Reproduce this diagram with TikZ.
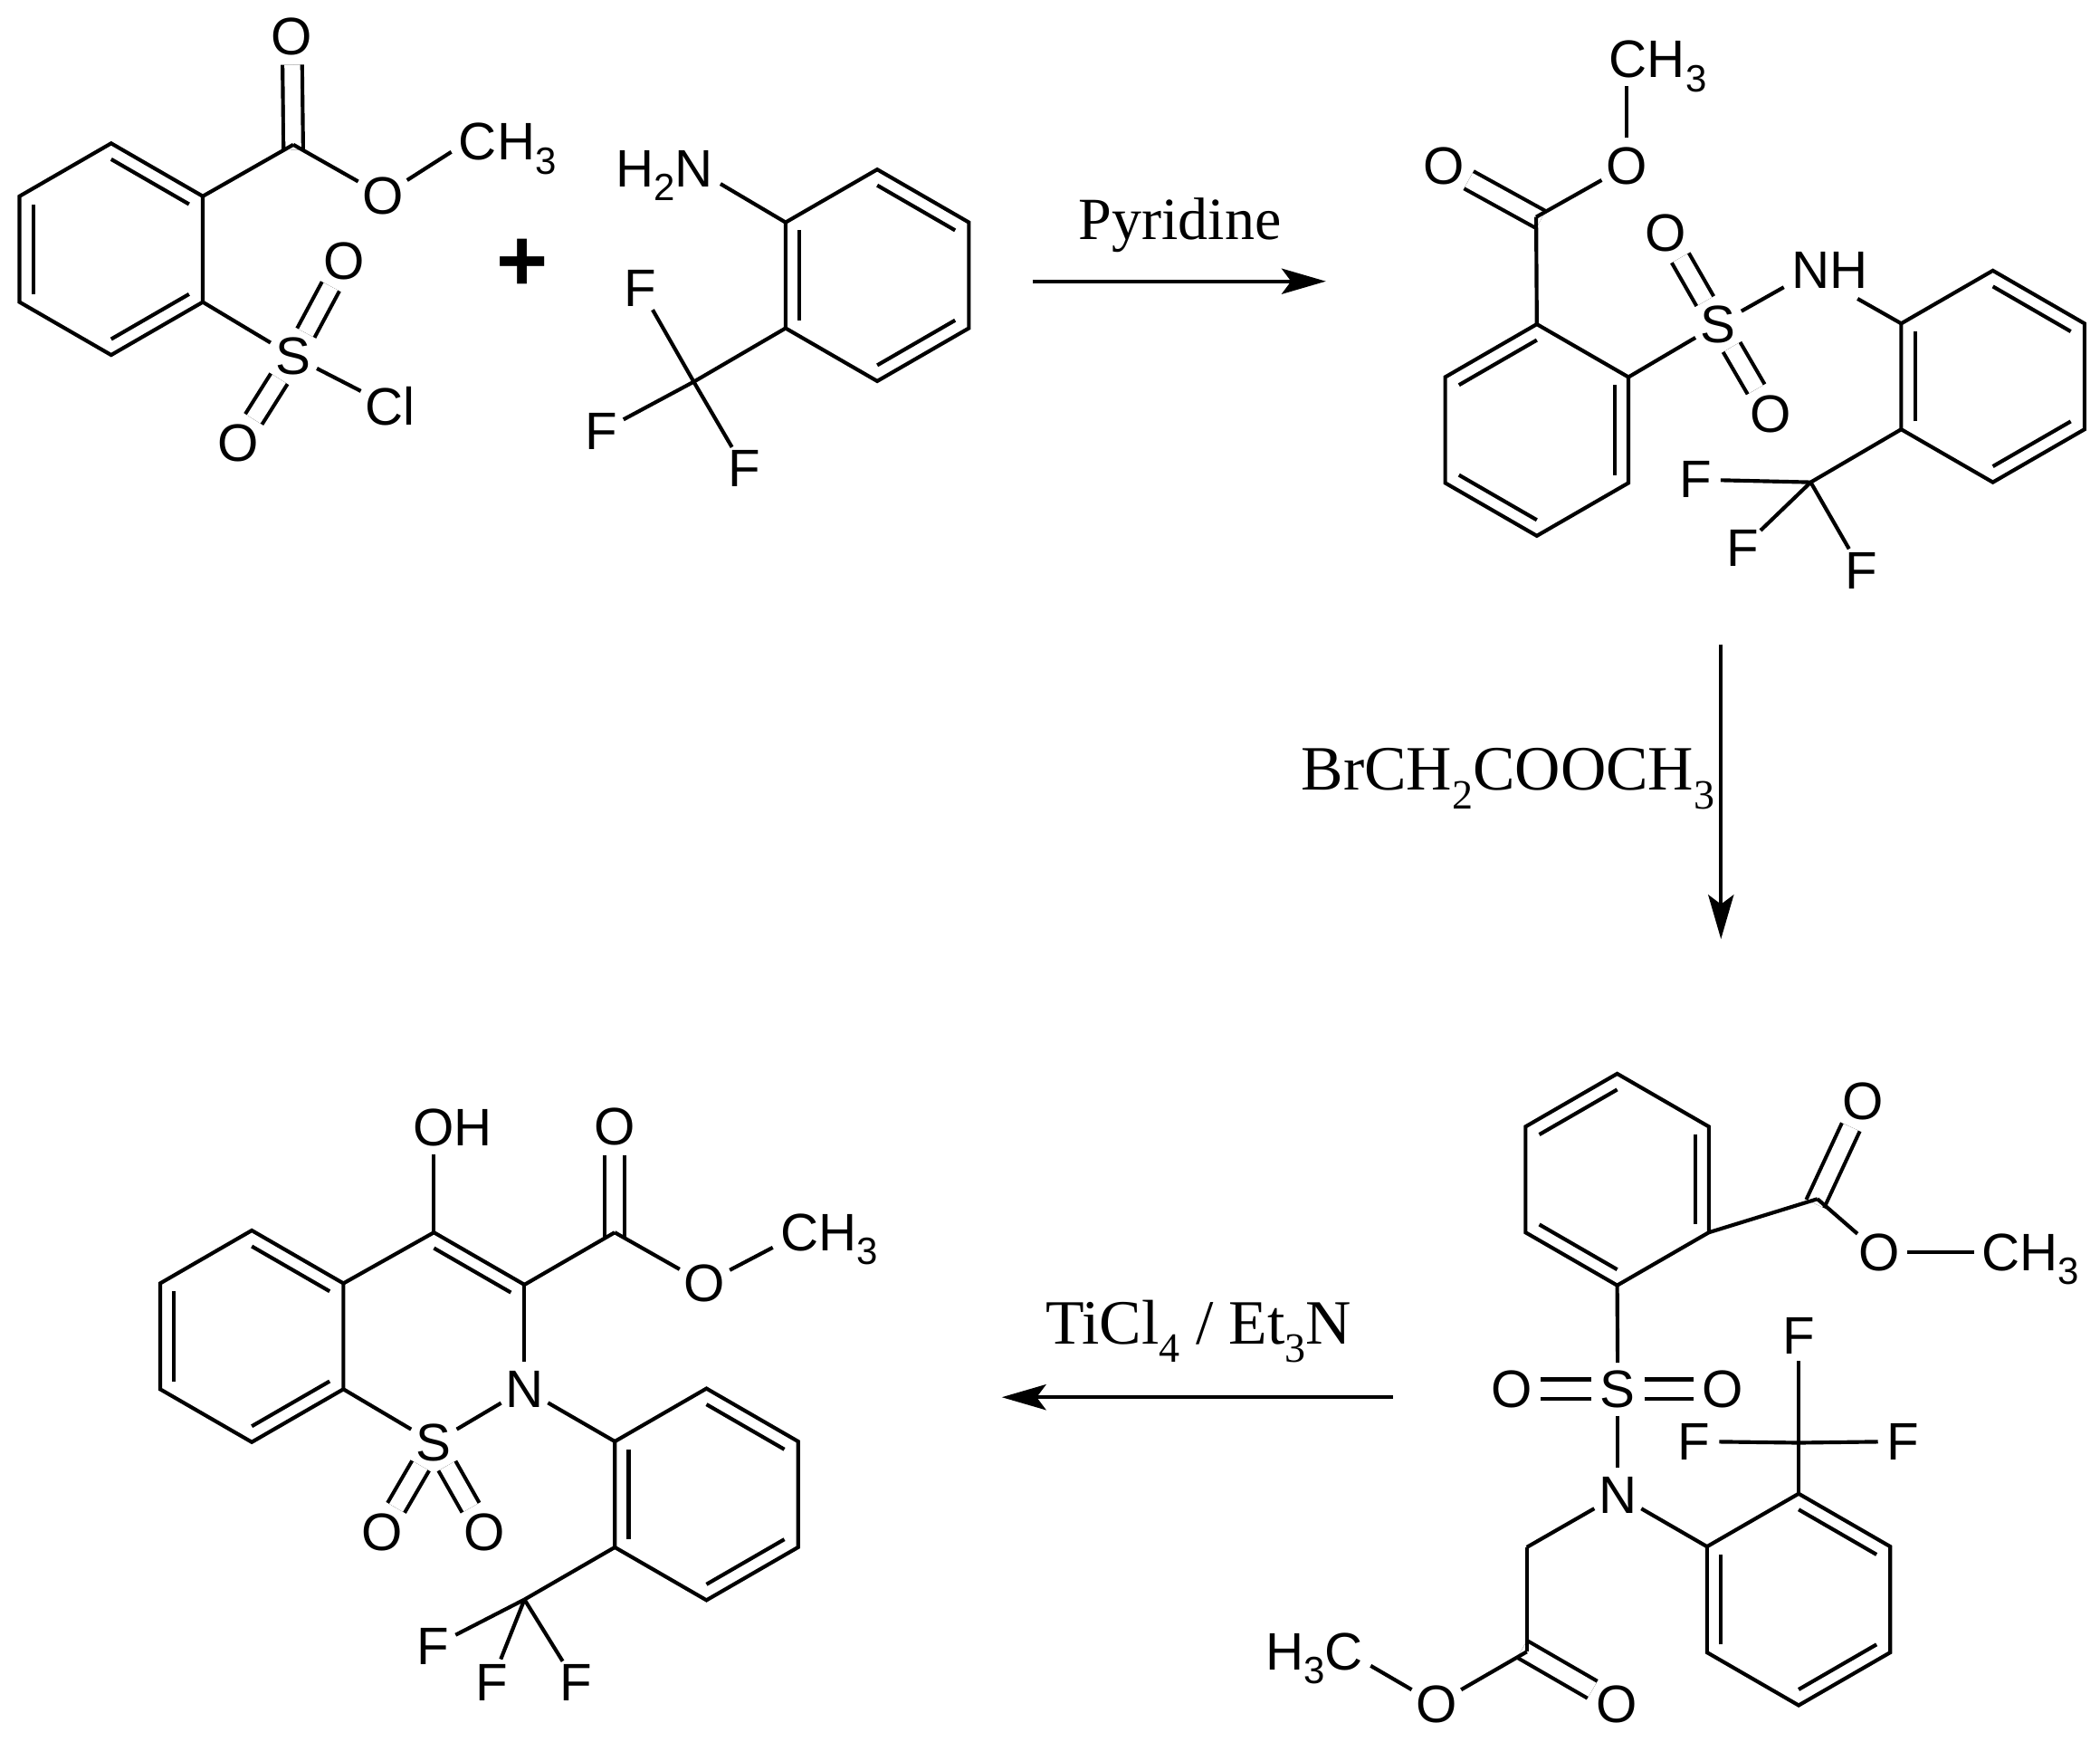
\documentclass[tikz,border=0pt]{standalone}
\usepackage{fontspec}
\setmainfont{Liberation Serif}
\setsansfont{Liberation Sans}
\usetikzlibrary{calc,arrows.meta}
\newcommand{\sbs}[1]{\smash{\raisebox{-.5ex}{\scalebox{.72}{#1}}}}
\newcommand{\sbr}[1]{\smash{\raisebox{-.65ex}{\scalebox{.66}{#1}}}}
\tikzset{
  bond/.style={line width=0.8pt},
  dbl/.style={bond, double, double distance=0.118cm},
  cdbl/.style={dbl, shorten <=-0.04cm},
  atom/.style={circle, inner sep=0pt, minimum size=0.37cm,
    font=\sffamily\fontsize{11.2}{12}\selectfont},
  fatom/.style={atom, minimum size=0.31cm},
  group/.style={rectangle, inner sep=1.4pt,
    font=\sffamily\fontsize{11.2}{12}\selectfont},
  reagent/.style={inner sep=0pt, font=\rmfamily\fontsize{13.4}{15}\selectfont},
  rxn/.style={line width=0.8pt, -{Stealth[length=0.33cm,width=0.19cm,inset=0.07cm]}}
}
% ring corners run clockwise from the top: #1 name, #2 #3 centre
\newcommand{\benzring}[3]{
  \coordinate (#1c) at (#2,#3);
  \foreach \i/\a in {1/-90,2/-30,3/30,4/90,5/150,6/210}
    \coordinate (#1\i) at ($(#1c)+(\a:79)$);
  \draw[bond] (#11) -- (#12) -- (#13) -- (#14) -- (#15) -- (#16) -- cycle;
}
% inner lines of the double bonds
\newcommand{\inbonds}[2]{
  \foreach \p/\q in {#2}
    \draw[bond] ($(#1\p)!.15!(#1c)$) -- ($(#1\q)!.15!(#1c)$);
}
\begin{document}
\begin{tikzpicture}[x=0.01cm,y=-0.01cm]
    \useasboundingbox (0,0) rectangle (1568,1300);

    % First reactant
    \benzring{a}{83}{186}
    \inbonds{a}{1/2,3/4,5/6}
    \coordinate (ac7) at (219,108);
    \node[atom] (ao1) at (218,27) {O};
    \node[atom] (ao2) at (286,146) {O};
    \node[group, anchor=west] (ame) at (337,106) {CH\sbs{3}};
    \node[atom] (as) at (219,266) {S};
    \node[atom] (ao3) at (257,195) {O};
    \node[atom] (ao4) at (178,331) {O};
    \node[atom] (acl) at (291,303) {Cl};
    \draw[cdbl] (ac7) -- (ao1);
    \draw[dbl] (as) -- (ao3);
    \draw[dbl] (as) -- (ao4);
    \draw[bond] (a2) -- (ac7);
    \draw[bond] (ac7) -- (ao2);
    \draw[bond] (ao2) -- (ame.190);
    \draw[bond] (a3) -- (as);
    \draw[bond] (as) -- (acl);

    \node[font=\sffamily\bfseries\fontsize{18.8}{19}\selectfont, inner sep=0pt] (plus) at (390,198) {+};

    % Second reactant
    \benzring{b}{655}{205.5}
    \inbonds{b}{1/2,3/4,5/6}
    \node[group] (bnh) at (496,126) {H\sbs{2}N};
    \coordinate (bcf) at (518,285);
    \node[fatom] (bf1) at (478,215) {F};
    \node[fatom] (bf2) at (449,322) {F};
    \node[fatom] (bf3) at (556,350) {F};
    \draw[bond] (b6) -- (bnh.-15);
    \draw[bond] (b5) -- (bcf);
    \draw[bond] (bcf) -- (bf1);
    \draw[bond] (bcf) -- (bf2);
    \draw[bond] (bcf) -- (bf3);

    % Pyridine step
    \coordinate (r1s) at (771,210);
    \coordinate (r1e) at (990,210);
    \draw[rxn] (r1s) -- (r1e);
    \node[reagent, anchor=base, font=\rmfamily\fontsize{12.7}{15}\selectfont] (r1t) at (881,179) {Pyridine};

    % Sulfonamide
    \benzring{c}{1147.5}{321}
    \inbonds{c}{6/1,2/3,4/5}
    \benzring{d}{1488}{281}
    \inbonds{d}{1/2,3/4,5/6}
    \coordinate (cc7) at (1147,162);
    \node[atom] (co1) at (1078,124) {O};
    \node[atom] (co2) at (1214.5,124) {O};
    \node[group, anchor=south west] (cme) at (1196,64) {CH\sbs{3}};
    \node[atom] (cs) at (1283,242) {S};
    \node[atom] (co3) at (1244,174) {O};
    \node[atom] (co4) at (1322,309) {O};
    \node[group] (cnh) at (1366,202) {NH};
    \coordinate (cnr) at (1387,223);
    \coordinate (ccf) at (1352,360);
    \node[fatom] (cf1) at (1266,358) {F};
    \node[fatom] (cf2) at (1301,409) {F};
    \node[fatom] (cf3) at (1390,426) {F};
    \draw[cdbl] (cc7) -- (co1);
    \draw[dbl] (cs) -- (co3);
    \draw[dbl] (cs) -- (co4);
    \draw[bond] (c1) -- (cc7);
    \draw[bond] (cc7) -- (co2);
    \draw[bond] (co2) -- (co2 |- cme.south);
    \draw[bond] (c2) -- (cs);
    \draw[bond] (cs) -- (cnh.200);
    \draw[bond] (cnr) -- (d6);
    \draw[bond] (d5) -- (ccf);
    \draw[bond] (ccf) -- (cf1);
    \draw[bond] (ccf) -- (cf2);
    \draw[bond] (ccf) -- (cf3);

    % Alkylation step
    \coordinate (r2s) at (1285,481);
    \coordinate (r2e) at (1285,701);
    \draw[rxn] (r2s) -- (r2e);
    \node[reagent, anchor=base] (r2t) at (1126,590) {BrCH\sbr{2}COOCH\sbr{3}};

    % N-alkylated ester
    \benzring{e}{1207.5}{880.5}
    \inbonds{e}{6/1,2/3,4/5}
    \benzring{f}{1343}{1194}
    \inbonds{f}{1/2,3/4,5/6}
    \coordinate (ec7) at (1357,895);
    \node[atom] (eo1) at (1391,822) {O};
    \node[atom] (eo2) at (1403,935) {O};
    \node[group, anchor=west] (eme) at (1474,935) {CH\sbs{3}};
    \node[atom] (es) at (1208,1037) {S};
    \node[atom] (eo3) at (1129,1037) {O};
    \node[atom] (eo4) at (1286,1037) {O};
    \node[atom] (en) at (1208,1116) {N};
    \coordinate (ecf) at (1343,1077);
    \node[fatom] (ef1) at (1343,997) {F};
    \node[fatom] (ef2) at (1265,1076) {F};
    \node[fatom] (ef3) at (1421,1076) {F};
    \coordinate (ec8) at (1140,1155);
    \coordinate (ec9) at (1140,1233);
    \node[atom] (eo5) at (1207.5,1272) {O};
    \node[atom] (eo6) at (1072.5,1272) {O};
    \node[group] (ehc) at (981.5,1233) {H\sbs{3}C};
    \draw[cdbl] (ec7) -- (eo1);
    \draw[dbl] (es) -- (eo3);
    \draw[dbl] (es) -- (eo4);
    \draw[cdbl] (ec9) -- (eo5);
    \draw[bond] (e3) -- (ec7);
    \draw[bond] (ec7) -- (eo2);
    \draw[bond] (eo2) -- (eme);
    \draw[bond] (e4) -- (es);
    \draw[bond] (es) -- (en);
    \draw[bond] (en) -- (f6);
    \draw[bond] (en) -- (ec8);
    \draw[bond] (ec8) -- (ec9);
    \draw[bond] (ec9) -- (eo6);
    \draw[bond] (eo6) -- (ehc.-14);
    \draw[bond] (f1) -- (ecf);
    \draw[bond] (ecf) -- (ef1);
    \draw[bond] (ecf) -- (ef2);
    \draw[bond] (ecf) -- (ef3);

    % Cyclisation step
    \coordinate (r3s) at (1040,1043);
    \coordinate (r3e) at (748,1043);
    \draw[rxn] (r3s) -- (r3e);
    \node[reagent, anchor=base] (r3t) at (895,1003) {TiCl\sbr{4} / Et\sbr{3}N};

    % Product
    \benzring{g}{188}{997.5}
    \inbonds{g}{1/2,3/4,5/6}
    \benzring{h}{527.5}{1115.5}
    \inbonds{h}{1/2,3/4,5/6}
    \coordinate (gc) at (324,998);
    \coordinate (gc4) at (324,920);
    \coordinate (gc3) at (391.6,959);
    \coordinate (gc7) at (459,920);
    \node[group] (goh) at (338,842) {OH};
    \node[atom] (go1) at (459,841) {O};
    \node[atom] (go2) at (526,958) {O};
    \node[group, anchor=west] (gme) at (577,920) {CH\sbs{3}};
    \node[atom] (gn) at (391.6,1037) {N};
    \node[atom] (gs) at (324,1077) {S};
    \node[atom] (go3) at (285,1144) {O};
    \node[atom] (go4) at (362,1144) {O};
    \coordinate (gcf) at (391.6,1194);
    \node[fatom] (gf1) at (323.5,1229) {F};
    \node[fatom] (gf2) at (367,1256) {F};
    \node[fatom] (gf3) at (430,1256) {F};
    \draw[cdbl] (gc7) -- (go1);
    \draw[dbl] (gs) -- (go3);
    \draw[dbl] (gs) -- (go4);
    \draw[bond] (g2) -- (gc4);
    \draw[bond] (gc4) -- (gc3);
    \draw[bond] ($(gc4)!.15!(gc)$) -- ($(gc3)!.15!(gc)$);
    \draw[bond] (gc3) -- (gn);
    \draw[bond] (gn) -- (gs);
    \draw[bond] (gs) -- (g3);
    \draw[bond] (gc4) -- (gc4 |- goh.south);
    \draw[bond] (gc3) -- (gc7);
    \draw[bond] (gc7) -- (go2);
    \draw[bond] (go2) -- (gme.195);
    \draw[bond] (gn) -- (h6);
    \draw[bond] (h5) -- (gcf);
    \draw[bond] (gcf) -- (gf1);
    \draw[bond] (gcf) -- (gf2);
    \draw[bond] (gcf) -- (gf3);
\end{tikzpicture}
\end{document}
